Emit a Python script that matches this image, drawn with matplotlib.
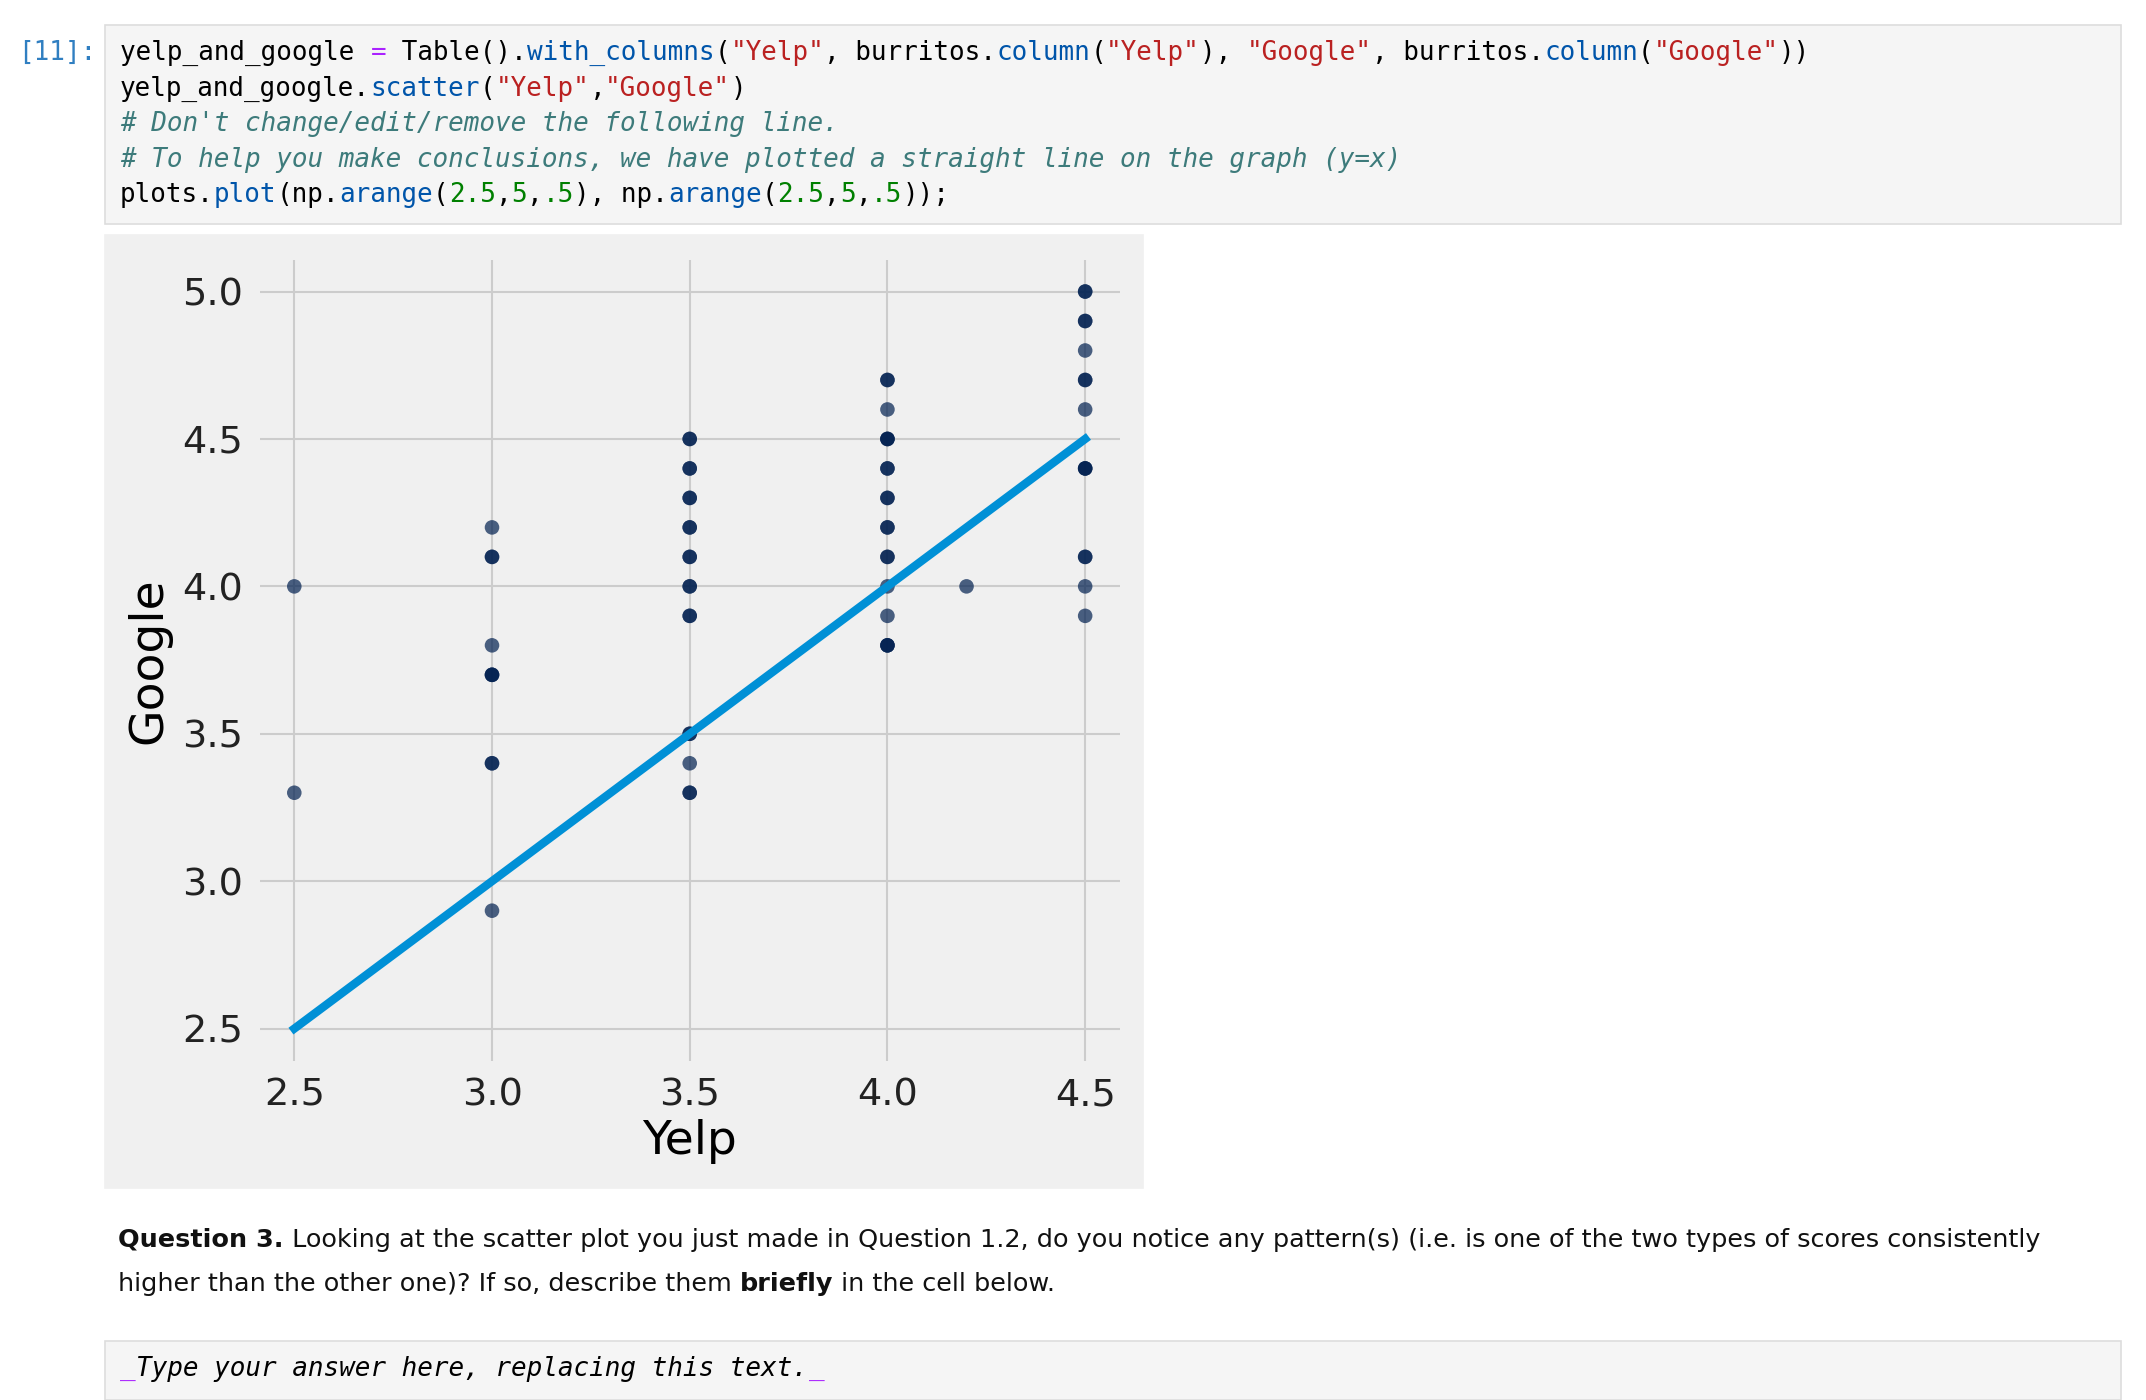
import matplotlib
matplotlib.use("Agg")
import matplotlib.pyplot as plt
from matplotlib.patches import Rectangle

yelp = [2.5, 2.5,
        3.0, 3.0, 3.0, 3.0, 3.0, 3.0, 3.0, 3.0, 3.0, 3.0,
        3.5, 3.5, 3.5, 3.5, 3.5, 3.5, 3.5, 3.5, 3.5, 3.5, 3.5, 3.5, 3.5, 3.5, 3.5, 3.5, 3.5, 3.5, 3.5,
        4.0, 4.0, 4.0, 4.0, 4.0, 4.0, 4.0, 4.0, 4.0, 4.0, 4.0, 4.0, 4.0, 4.0, 4.0, 4.0, 4.0, 4.0, 4.0,
        4.2,
        4.5, 4.5, 4.5, 4.5, 4.5, 4.5, 4.5, 4.5, 4.5, 4.5, 4.5, 4.5, 4.5, 4.5, 4.5]
google = [4.0, 3.3,
          4.2, 4.1, 4.1, 3.8, 3.7, 3.7, 3.7, 3.4, 3.4, 2.9,
          4.5, 4.5, 4.4, 4.4, 4.3, 4.3, 4.2, 4.2, 4.1, 4.1, 4.0, 4.0, 3.9, 3.9, 3.5, 3.5, 3.4, 3.3, 3.3,
          4.7, 4.7, 4.6, 4.5, 4.5, 4.5, 4.4, 4.4, 4.3, 4.3, 4.2, 4.2, 4.1, 4.1, 4.0, 3.9, 3.8, 3.8, 3.8,
          4.0,
          5.0, 5.0, 4.9, 4.9, 4.8, 4.7, 4.7, 4.6, 4.4, 4.4, 4.4, 4.1, 4.1, 4.0, 3.9]
line_x = [2.5, 3.0, 3.5, 4.0, 4.5]
line_y = [2.5, 3.0, 3.5, 4.0, 4.5]
ticks = [2.5, 3.0, 3.5, 4.0, 4.5, 5.0]

W, H = 2146, 1400
fig = plt.figure(figsize=(W/100, H/100), dpi=100)
fig.patch.set_facecolor("white")

def px(x, y):
    return x / W, 1 - y / H

def rect(x0, y0, x1, y1, fc, ec=None):
    fig.patches.append(Rectangle((x0/W, 1-y1/H), (x1-x0)/W, (y1-y0)/H, transform=fig.transFigure,
                                 facecolor=fc, edgecolor=ec if ec else fc, lw=1.2, zorder=-5))

rect(105, 25, 2121, 224, "#f5f5f5", "#dddddd")
rect(105, 235, 1143, 1188, "#f0f0f0")
rect(105, 1341, 2121, 1400, "#f5f5f5", "#dddddd")

fig.text(*px(18, 53), "[11]:", family="DejaVu Sans Mono", fontsize=18.7, color="#307fc1", va="center")

cw = 15.65
x0 = 120
K, B, S, N, P, C = "#000000", "#0055aa", "#ba2121", "#008000", "#aa22ff", "#3d7b7b"
lines = [
    [("yelp_and_google ", K), ("=", P), (" Table().", K), ("with_columns", B), ("(", K), ('"Yelp"', S),
     (", burritos.", K), ("column", B), ("(", K), ('"Yelp"', S), ("), ", K), ('"Google"', S),
     (", burritos.", K), ("column", B), ("(", K), ('"Google"', S), ("))", K)],
    [("yelp_and_google.", K), ("scatter", B), ("(", K), ('"Yelp"', S), (",", K), ('"Google"', S), (")", K)],
    [("# Don't change/edit/remove the following line.", C)],
    [("# To help you make conclusions, we have plotted a straight line on the graph (y=x)", C)],
    [("plots.", K), ("plot", B), ("(np.", K), ("arange", B), ("(", K), ("2.5", N), (",", K), ("5", N), (",", K),
     (".5", N), ("), np.", K), ("arange", B), ("(", K), ("2.5", N), (",", K), ("5", N), (",", K), (".5", N), ("));", K)],
]
for li, segs in enumerate(lines):
    y = 53 + li * 35.6
    i = 0
    for t, c in segs:
        fig.text(*px(x0 + i * cw, y), t, family="DejaVu Sans Mono", fontsize=18.7, color=c, va="center",
                 style="italic" if c == C else "normal")
        i += len(t)

ax = fig.add_axes([0.1211, 0.2421, 0.4006, 0.5722])
ax.set_facecolor("#f0f0f0")
for s in ax.spines.values():
    s.set_visible(False)
ax.grid(True, color="#cccccc", lw=1.5)
ax.set_axisbelow(True)
ax.scatter(yelp, google, s=110, color="#012050", alpha=0.7, edgecolors="none", zorder=3)
ax.plot(line_x, line_y, color="#0090d6", lw=6, zorder=4)
ax.set_xlim(2.413, 4.587)
ax.set_ylim(2.39, 5.107)
ax.set_xticks(ticks[:5])
ax.set_yticks(ticks)
ax.tick_params(length=0, labelsize=27.5, pad=12, labelcolor="#222222")
ax.set_xlabel("Yelp", fontsize=34, labelpad=4)
ax.set_ylabel("Google", fontsize=34, labelpad=8)

fig.canvas.draw()
r = fig.canvas.get_renderer()

def rich(x, y, segs, size=19, fam="DejaVu Sans"):
    cx = x
    for t, w in segs:
        tx = fig.text(*px(cx, y), t, family=fam, fontsize=size, fontweight=w, va="center", color="#111111")
        bb = tx.get_window_extent(r)
        cx += bb.width

rich(118, 1240, [("Question 3.", "bold"), (" Looking at the scatter plot you just made in Question 1.2, do you notice any pattern(s) (i.e. is one of the two types of scores consistently", "normal")], size=18.35)
rich(118, 1284, [("higher than the other one)? If so, describe them ", "normal"), ("briefly", "bold"), (" in the cell below.", "normal")], size=18.35)

j = 0
for t, c in [("_", P), ("Type your answer here, replacing this text.", K), ("_", P)]:
    fig.text(*px(x0 + j * cw, 1369), t, family="DejaVu Sans Mono", fontsize=18.7, color=c, va="center", style="italic")
    j += len(t)

fig.savefig("out.png", dpi=100)
